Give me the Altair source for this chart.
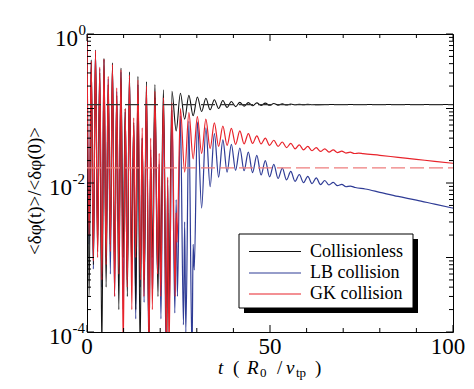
import altair as alt
import pandas as pd

# ---------------- data ----------------
black_t = [0, 0.58, 1.16, 1.74,
           2.32, 2.9, 3.48, 4.06,
           4.64, 5.22, 5.8, 6.38,
           6.96, 7.54, 8.12, 8.7,
           9.28, 9.86, 10.44, 11.02,
           11.6, 12.18, 12.76, 13.34,
           13.92, 14.5, 15.08, 15.66,
           16.24, 16.95, 17.4, 17.8,
           18.56, 19.4, 19.72, 20.05,
           20.88, 21.8, 22.04, 22.3,
           23.2, 24.36, 25.52, 26.68, 27.84, 29.0, 30.16, 31.32, 32.48, 33.64,
           34.8, 35.96, 37.12, 38.28, 39.44, 40.6, 41.76, 42.92, 44.08, 45.24,
           46.4, 47.56, 48.72, 49.88, 51.04, 52.2, 53.36, 54.52, 55.68, 56.84,
           58.0, 59.16, 60.32, 61.48,
           65, 100]
black_v = [1.0, 3e-4, 0.45, 8e-4,
           0.61, 1.2e-3, 0.30, 5e-5,
           0.47, 4e-4, 0.21, 1.5e-3,
           0.41, 6e-4, 0.15, 2e-4,
           0.35, 1e-3, 0.10, 3e-4,
           0.31, 7e-4, 0.065, 2e-4,
           0.27, 5e-5, 0.04, 5e-4,
           0.23, 5e-5, 0.022, 1e-3,
           0.21, 3e-4, 0.010, 6e-4,
           0.178, 5e-5, 0.004, 2e-4,
           0.170, 0.05, 0.160, 0.072, 0.150, 0.080, 0.143, 0.091, 0.137, 0.096,
           0.131, 0.100, 0.128, 0.103, 0.124, 0.106, 0.121, 0.1075, 0.120, 0.109,
           0.119, 0.110, 0.118, 0.1105, 0.1165, 0.111, 0.1155, 0.1115, 0.1148, 0.112,
           0.1142, 0.1123, 0.1138, 0.1125,
           0.113, 0.113]

red_t = [0, 0.58, 1.16, 1.74,
         2.32, 2.9, 3.48, 4.06,
         4.64, 5.22, 5.8, 6.38,
         6.96, 7.54, 8.12, 8.7,
         9.28, 9.9, 10.44, 11.0,
         11.6, 12.25, 12.76, 13.3,
         13.92, 14.6, 15.08, 15.55,
         16.24, 16.95, 17.4, 17.85,
         18.56, 19.3, 19.72, 20.15,
         20.88, 21.7, 22.04, 22.4,
         23.2, 24.1, 24.36, 24.6,
         25.52, 26.68, 27.84, 29.0, 30.16, 31.32, 32.48, 33.64, 34.8, 35.96,
         37.12, 38.28, 39.44, 40.6, 41.76, 42.92, 44.08, 45.24, 46.4, 47.56,
         48.72, 49.88, 51.04, 52.2, 53.36, 54.52, 55.68, 56.84, 58.0, 59.16,
         60.32, 61.48, 62.64, 63.8, 64.96, 66.12, 67.28, 68.44, 69.6, 70.76,
         71.92, 73.08, 74.24,
         75.4, 80, 85, 90, 95, 100]
red_v = [1.0, 2e-3, 0.43, 9e-4,
         0.60, 1e-3, 0.36, 5e-4,
         0.46, 8e-4, 0.27, 1.2e-3,
         0.39, 3e-4, 0.19, 6e-4,
         0.33, 5e-5, 0.10, 4e-4,
         0.28, 2e-4, 0.075, 1e-3,
         0.24, 5e-4, 0.055, 3e-4,
         0.20, 5e-5, 0.04, 2e-4,
         0.17, 6e-4, 0.025, 3e-4,
         0.14, 5e-5, 0.012, 5e-5,
         0.12, 3e-4, 0.004, 1.6e-3,
         0.10, 0.014, 0.088, 0.021, 0.078, 0.025, 0.072, 0.029, 0.064, 0.031,
         0.058, 0.032, 0.054, 0.033, 0.050, 0.0335, 0.046, 0.034, 0.043, 0.0335,
         0.040, 0.032, 0.0375, 0.031, 0.0355, 0.0298, 0.034, 0.0288, 0.0325, 0.0279,
         0.031, 0.0271, 0.0298, 0.0265, 0.0288, 0.026, 0.0278, 0.0256, 0.0268, 0.0252,
         0.0259, 0.0249, 0.0252,
         0.0248, 0.0235, 0.0221, 0.0208, 0.0195, 0.0184]

blue_t = [0, 0.58, 1.16, 1.74,
          2.32, 2.9, 3.48, 4.06,
          4.64, 5.22, 5.8, 6.38,
          6.96, 7.54, 8.12, 8.7,
          9.28, 9.88, 10.44, 11.0,
          11.6, 12.2, 12.76, 13.32,
          13.92, 14.55, 15.08, 15.6,
          16.24, 16.9, 17.4, 17.9,
          18.56, 19.25, 19.72, 20.2,
          20.88, 21.6, 22.04, 22.5,
          23.2, 24.0, 24.36, 24.7,
          25.52, 26.35, 26.68, 27.0,
          27.84, 28.7, 29.0, 29.3,
          30.16, 31.32, 32.48, 33.64, 34.8, 35.96, 37.12, 38.28, 39.44, 40.6,
          41.76, 42.92, 44.08, 45.24, 46.4, 47.56, 48.72, 49.88, 51.04, 52.2,
          53.36, 54.52, 55.68, 56.84, 58.0, 59.16, 60.32, 61.48, 62.64, 63.8,
          64.96, 66.12, 67.28, 68.44, 69.6, 70.76, 71.92,
          73.3, 76, 80, 85, 90, 95, 100]
blue_v = [1.0, 1.5e-3, 0.42, 7e-4,
          0.60, 2e-3, 0.34, 4e-4,
          0.455, 1e-3, 0.25, 6e-4,
          0.38, 3e-4, 0.17, 1.2e-3,
          0.31, 2e-4, 0.09, 5e-4,
          0.26, 8e-4, 0.06, 1.5e-4,
          0.21, 4e-4, 0.04, 2.5e-4,
          0.17, 5e-5, 0.028, 3e-4,
          0.14, 6e-4, 0.018, 1.5e-4,
          0.115, 5e-5, 0.011, 2e-4,
          0.095, 1.8e-4, 0.006, 3e-4,
          0.08, 1.25e-4, 0.003, 1e-4,
          0.068, 5e-5, 0.0015, 6.8e-4,
          0.066, 0.0046, 0.055, 0.0089, 0.046, 0.012, 0.038, 0.014, 0.033, 0.0148,
          0.0295, 0.0146, 0.026, 0.0138, 0.0235, 0.0128, 0.0200, 0.0121, 0.0178, 0.0115,
          0.0158, 0.0110, 0.0143, 0.0105, 0.0130, 0.0101, 0.0123, 0.0098, 0.0117, 0.0095,
          0.0108, 0.0094, 0.0102, 0.0092, 0.0096, 0.0089, 0.0091,
          0.0087, 0.0083, 0.0075, 0.0066, 0.0059, 0.0052, 0.0046]

black_residual = 0.113
red_residual = 0.016

x_ticks = [0, 10, 20, 30, 40, 50, 60, 70, 80, 90, 100]
x_major = [0, 50, 100]
x_labels = ["0", "50", "100"]
y_major = [1.0, 0.1, 0.01, 0.001, 0.0001]
y_minor = [0.9, 0.8, 0.7, 0.6, 0.5, 0.4, 0.3, 0.2,
           0.09, 0.08, 0.07, 0.06, 0.05, 0.04, 0.03, 0.02,
           0.009, 0.008, 0.007, 0.006, 0.005, 0.004, 0.003, 0.002,
           0.0009, 0.0008, 0.0007, 0.0006, 0.0005, 0.0004, 0.0003, 0.0002]
legend_names = ["Collisionless", "LB collision", "GK collision"]

# ---------------- styling ----------------
W, H = 366, 298
SERIF = "Liberation Serif"
C_BLACK = "#111111"
C_BLUE = "#2f3c96"
C_RED = "#e8232b"
C_RED_DASH = "#ee7d7d"

xs = alt.Scale(domain=[0, 100], nice=False, zero=False)
ys = alt.Scale(type="log", domain=[1e-4, 1], nice=False)
X = alt.X("t:Q", scale=xs, axis=None)
Y = alt.Y("v:Q", scale=ys, axis=None)


def series(t, v, color, width=1.2):
    df = pd.DataFrame({"t": t, "v": v})
    return alt.Chart(df).mark_line(color=color, strokeWidth=width,
                                   interpolate="monotone", clip=True).encode(x=X, y=Y)


def hline(val, color, dash):
    df = pd.DataFrame({"t": [0, 100], "v": [val, val]})
    return alt.Chart(df).mark_line(color=color, strokeWidth=1.2, strokeDash=dash,
                                   clip=True).encode(x=X, y=Y)


blue_line = series(blue_t, blue_v, C_BLUE)
black_line = series(black_t, black_v, C_BLACK, 1.1)
red_line = series(red_t, red_v, C_RED)
black_dash = hline(black_residual, "#333333", [14, 5])
red_dash = hline(red_residual, C_RED_DASH, [14, 5])

# ticks (inward, all four sides)
xt_minor = pd.DataFrame({"t": [t for t in x_ticks if t not in x_major]})
xt_major = pd.DataFrame({"t": x_major})
yt_major = pd.DataFrame({"v": y_major})
yt_minor = pd.DataFrame({"v": y_minor})

def xticks(df, ln):
    b = alt.Chart(df).mark_rule(color="black", strokeWidth=1).encode(
        x=X, y=alt.value(H), y2=alt.value(H - ln))
    t = alt.Chart(df).mark_rule(color="black", strokeWidth=1).encode(
        x=X, y=alt.value(0), y2=alt.value(ln))
    return b + t

def yticks(df, ln):
    l = alt.Chart(df).mark_rule(color="black", strokeWidth=1).encode(
        y=Y, x=alt.value(0), x2=alt.value(ln))
    r = alt.Chart(df).mark_rule(color="black", strokeWidth=1).encode(
        y=Y, x=alt.value(W), x2=alt.value(W - ln))
    return l + r

ticks = xticks(xt_minor, 4) + xticks(xt_major, 7) + yticks(yt_minor, 4) + yticks(yt_major, 7)

# tick labels (the last one nudged left so it stays inside the page)
xl_df = pd.DataFrame({"t": x_major, "lab": x_labels})
xl = alt.Chart(xl_df.iloc[:2]).mark_text(
    font=SERIF, fontSize=23, align="center", baseline="alphabetic", color="black"
).encode(x=X, y=alt.value(H + 22), text="lab:N")
xl_last = alt.Chart(xl_df.iloc[2:]).mark_text(
    font=SERIF, fontSize=23, align="center", baseline="alphabetic", color="black", dx=-5
).encode(x=X, y=alt.value(H + 22), text="lab:N")

def ylab(val, sup, x10):
    d = pd.DataFrame({"v": [val]})
    base = alt.Chart(d).mark_text(font=SERIF, fontSize=23, align="right",
                                  baseline="alphabetic", dy=12, color="black",
                                  text="10").encode(y=Y, x=alt.value(x10))
    s = alt.Chart(d).mark_text(font=SERIF, fontSize=15, align="left",
                               baseline="alphabetic", dy=1, color="black",
                               text=sup).encode(y=Y, x=alt.value(x10 + 0.5))
    return base + s

ylabels = ylab(1.0, "0", -9) + ylab(0.01, "-2", -15) + ylab(0.0001, "-4", -15)

# axis titles
ytitle = alt.Chart(pd.DataFrame({"a": [0]})).mark_text(
    font=SERIF, fontSize=19, angle=270, align="center", baseline="middle",
    color="black", text="<δφ(t)>/<δφ(0)>"
).encode(x=alt.value(-52), y=alt.value(157))

def txt(s, x, y, size=19, italic=False, align="left"):
    kw = dict(font=SERIF, fontSize=size, align=align, baseline="alphabetic",
              color="black", text=s)
    if italic:
        kw["fontStyle"] = "italic"
    return alt.Chart(pd.DataFrame({"a": [0]})).mark_text(**kw).encode(
        x=alt.value(x), y=alt.value(y))

XT_Y = 340
xtitle = (txt("t", 131, XT_Y, italic=True) + txt("(", 146, XT_Y) +
          txt("R", 160, XT_Y, italic=True) + txt("0", 173, XT_Y + 3, size=13) +
          txt("/", 190, XT_Y) + txt("v", 199, XT_Y, italic=True) +
          txt("tp", 209, XT_Y + 3, size=13) + txt(")", 228, XT_Y))

# legend
def box(x1, y1, x2, y2, fill, stroke=None):
    kw = dict(fill=fill)
    if stroke:
        kw.update(stroke=stroke, strokeWidth=1)
    return alt.Chart(pd.DataFrame({"a": [0]})).mark_rect(**kw).encode(
        x=alt.value(x1), x2=alt.value(x2), y=alt.value(y1), y2=alt.value(y2))

legend = box(157, 205, 331, 279, "black") + box(152, 200, 326, 274, "white", "black")
for name, col, yy in zip(legend_names, [C_BLACK, C_BLUE, C_RED], [217.5, 239, 260]):
    legend = legend + alt.Chart(pd.DataFrame({"a": [0]})).mark_rule(
        color=col, strokeWidth=1.2).encode(x=alt.value(162), x2=alt.value(214),
                                           y=alt.value(yy))
    legend = legend + alt.Chart(pd.DataFrame({"a": [0]})).mark_text(
        font=SERIF, fontSize=18, align="left", baseline="middle", color="black",
        text=name).encode(x=alt.value(223), y=alt.value(yy))

chart = alt.layer(
    blue_line, black_line, red_line, black_dash, red_dash,
    ticks, xl, xl_last, ylabels, ytitle, xtitle, legend
).properties(
    width=W, height=H, autosize="none",
    padding={"left": 79, "top": 26, "right": 13, "bottom": 49}
).configure_view(stroke="black", strokeWidth=1)

chart.save("out.html", embed_options={"renderer": "svg", "actions": False})
